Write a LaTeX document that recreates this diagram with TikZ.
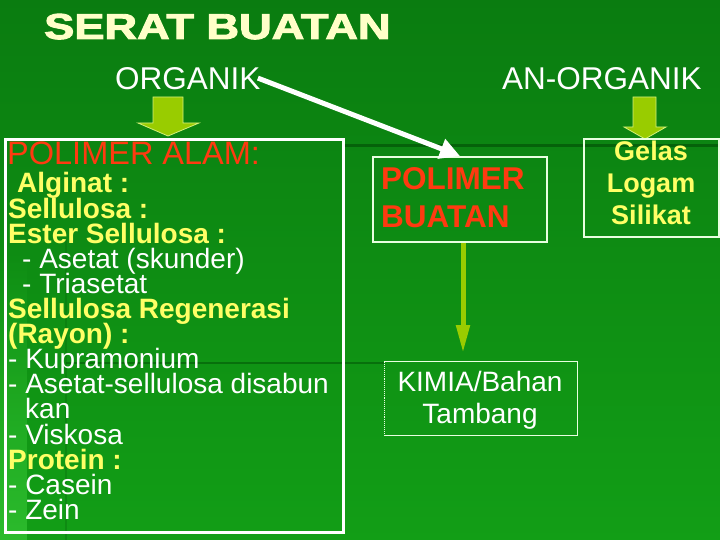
\documentclass[tikz,border=0pt]{standalone}
\usepackage{fontspec}
\setmainfont{Liberation Sans}
\newfontfamily\titlefont[FakeBold=2.5]{Liberation Sans Bold}
\usetikzlibrary{arrows.meta,calc,fadings}
\definecolor{bgtop}{HTML}{0A7C10}
\definecolor{bgbot}{HTML}{129E16}
\definecolor{brightg}{HTML}{32C232}
\definecolor{titleyel}{HTML}{FFFFC8}
\definecolor{txtyel}{HTML}{FFFF66}
\definecolor{txtred}{HTML}{FF3A10}
\definecolor{arrgreen}{HTML}{99CC00}
\definecolor{arredge}{HTML}{D4F07A}
\definecolor{gridline}{HTML}{05620A}
\definecolor{boxline}{HTML}{E8FFE0}
\begin{document}
\begin{tikzpicture}[x=1pt,y=-1pt,
  listline/.style={inner sep=0pt, anchor=base west, text height=19pt, text depth=4.5pt},
  yb/.style={listline, font=\fontsize{28}{30}\selectfont\bfseries, text=txtyel},
  wr/.style={listline, font=\fontsize{28}{30}\selectfont, text=white},
  heading/.style={font=\fontsize{31.5}{34}\selectfont, text=white, inner sep=0pt, anchor=base west},
  redtxt/.style={font=\fontsize{32.5}{34}\selectfont, text=txtred, inner sep=0pt, anchor=base west, text height=23pt, text depth=2pt},
  redbold/.style={font=\fontsize{31.5}{34}\selectfont\bfseries, text=txtred, inner sep=0pt, anchor=base west},
  gelastxt/.style={font=\fontsize{27}{30}\selectfont\bfseries, text=txtyel, inner sep=0pt, anchor=base},
  kimiatxt/.style={font=\fontsize{28}{30}\selectfont, text=white, inner sep=0pt, anchor=base},
  frame/.style={draw=boxline, line width=2pt, inner sep=0pt, anchor=north west},
  blockarrow/.style={fill=arrgreen, draw=arredge, line width=0.8pt}
]
\useasboundingbox (0,0) rectangle (720,540);
% background
\fill[top color=bgtop, bottom color=bgbot] (0,0) rectangle (720,540);
\fill[brightg, path fading=north, opacity=0.8] (0,250) rectangle (27,540);
\draw[gridline, line width=3pt] (343,146) -- (720,146);
\draw[gridline, line width=2.5pt, opacity=0.7] (66,363) -- (384,363);
\draw[gridline, line width=2pt, opacity=0.3] (66,240) -- (66,540);

% title
\node[inner sep=0pt, anchor=base west, text=titleyel, font=\fontsize{36}{40}\selectfont\titlefont] (title) at (44,39) {\scalebox{1.255}[1]{SERAT BUATAN}};

% headings
\node[heading] (organik) at (115,90) {ORGANIK};
\node[heading] (anorganik) at (502,90) {AN-ORGANIK};

% block arrows
\draw[blockarrow] (153,97) -- (183,97) -- (183,123) -- (199,123) -- (168,136) -- (138,123) -- (153,123) -- cycle;
\draw[blockarrow] (633,97) -- (656,97) -- (656,127) -- (666,127) -- (645,139) -- (624,127) -- (633,127) -- cycle;

% left box
\node[draw=white, line width=3pt, inner sep=0pt, anchor=north west, minimum width=338pt, minimum height=393pt] (alambox) at (4,138) {};
\node[redtxt] (alam) at (7,165) {POLIMER ALAM:};
\foreach \i/\st/\xx/\tx in {
  0/yb/17/{Alginat :},
  1/yb/8/{Sellulosa :},
  2/yb/8/{Ester Sellulosa :},
  3/wr/22/{- Asetat (skunder)},
  4/wr/22/{- Triasetat},
  5/yb/8/{Sellulosa Regenerasi},
  6/yb/8/{(Rayon) :},
  7/wr/8/{- Kupramonium},
  8/wr/8/{- Asetat-sellulosa disabun},
  9/wr/25/{kan},
  10/wr/8/{- Viskosa},
  11/yb/8/{Protein :},
  12/wr/8/{- Casein},
  13/wr/8/{- Zein}}
  \node[\st] (ln\i) at ({\xx},{193+25.1*\i}) {\tx};

% polimer buatan
\node[frame, minimum width=174pt, minimum height=85pt] (pb) at (372,156) {};
\node[redbold] (pb1) at (381,190) {POLIMER};
\node[redbold] (pb2) at (381,228) {BUATAN};

% gelas box
\node[frame, minimum width=135pt, minimum height=98pt] (gelas) at (583,138) {};
\node[gelastxt] (g1) at (651,161) {Gelas};
\node[gelastxt] (g2) at (651,193) {Logam};
\node[gelastxt] (g3) at (651,225) {Silikat};

% kimia box
\node[inner sep=0pt, anchor=north west, minimum width=193pt, minimum height=74pt] (kimia) at (384,361) {};
\draw[boxline, line width=0.9pt] (kimia.north west) -- (kimia.north east) -- (kimia.south east) -- (kimia.south west);
\draw[boxline, line width=0.9pt, densely dotted] (kimia.south west) -- (kimia.north west);
\node[kimiatxt] (k1) at (480,391) {KIMIA/Bahan};
\node[kimiatxt] (k2) at (480,423) {Tambang};

% connectors
\draw[white, line width=5pt, shorten <=-3pt, -{Triangle[length=20pt,width=20pt]}] (organik.east) -- (pb.north);
\draw[arrgreen, line width=5pt, -{Triangle[length=28pt,width=13pt]}] ($(pb.south)+(3,0)$) -- ($(pb.south |- kimia.north)+(3,-8)$);
\end{tikzpicture}
\end{document}
